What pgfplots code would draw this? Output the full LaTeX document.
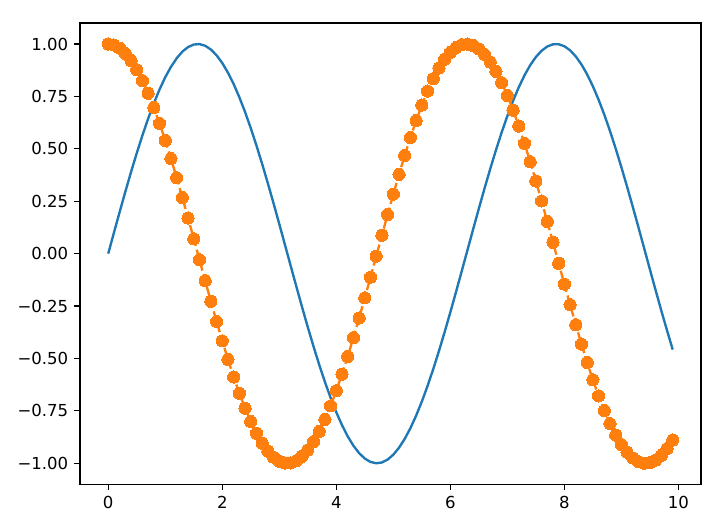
\documentclass[border=0pt]{standalone}
\usepackage{fontspec}
\setmainfont{DejaVu Sans}
\usepackage{pgfplots}
\pgfplotsset{compat=1.18}
\definecolor{mplblue}{HTML}{1F77B4}
\definecolor{mplorange}{HTML}{FF7F0E}

\begin{document}
\begin{tikzpicture}
\begin{axis}[
    scale only axis,
    width=447pt, height=332pt,
    xmin=-0.495, xmax=10.395,
    ymin=-1.1, ymax=1.1,
    axis line style={line width=0.9pt},
    tick style={line width=0.9pt, black},
    tick align=outside,
    major tick length=4pt,
    xtick={0,2,4,6,8,10},
    ytick={-1,-0.75,-0.5,-0.25,0,0.25,0.5,0.75,1},
    yticklabels={−1.00,−0.75,−0.50,−0.25,0.00,0.25,0.50,0.75,1.00},
    xtick pos=bottom, ytick pos=left,
    ticklabel style={font=\fontsize{11.9}{14}\selectfont},
    xticklabel style={yshift=-1pt},
    yticklabel style={xshift=-1pt},
    /pgf/number format/assume math mode=true,
]
% sin(x)
\addplot[mplblue, line width=1.7pt, mark=none] coordinates {
(0.0,0) (0.1,0.0998) (0.2,0.1987) (0.3,0.2955) (0.4,0.3894) (0.5,0.4794) (0.6,0.5646) (0.7,0.6442) (0.8,0.7174) (0.9,0.7833)
(1.0,0.8415) (1.1,0.8912) (1.2,0.9320) (1.3,0.9636) (1.4,0.9854) (1.5,0.9975) (1.6,0.9996) (1.7,0.9917) (1.8,0.9738) (1.9,0.9463)
(2.0,0.9093) (2.1,0.8632) (2.2,0.8085) (2.3,0.7457) (2.4,0.6755) (2.5,0.5985) (2.6,0.5155) (2.7,0.4274) (2.8,0.3350) (2.9,0.2392)
(3.0,0.1411) (3.1,0.0416) (3.2,-0.0584) (3.3,-0.1577) (3.4,-0.2555) (3.5,-0.3508) (3.6,-0.4425) (3.7,-0.5298) (3.8,-0.6119) (3.9,-0.6878)
(4.0,-0.7568) (4.1,-0.8183) (4.2,-0.8716) (4.3,-0.9162) (4.4,-0.9516) (4.5,-0.9775) (4.6,-0.9937) (4.7,-0.9999) (4.8,-0.9962) (4.9,-0.9825)
(5.0,-0.9589) (5.1,-0.9258) (5.2,-0.8835) (5.3,-0.8323) (5.4,-0.7728) (5.5,-0.7055) (5.6,-0.6313) (5.7,-0.5507) (5.8,-0.4646) (5.9,-0.3739)
(6.0,-0.2794) (6.1,-0.1822) (6.2,-0.0831) (6.3,0.0168) (6.4,0.1165) (6.5,0.2151) (6.6,0.3115) (6.7,0.4048) (6.8,0.4941) (6.9,0.5784)
(7.0,0.6570) (7.1,0.7290) (7.2,0.7937) (7.3,0.8504) (7.4,0.8987) (7.5,0.9380) (7.6,0.9679) (7.7,0.9882) (7.8,0.9985) (7.9,0.9989)
(8.0,0.9894) (8.1,0.9699) (8.2,0.9407) (8.3,0.9022) (8.4,0.8546) (8.5,0.7985) (8.6,0.7344) (8.7,0.6630) (8.8,0.5849) (8.9,0.5010)
(9.0,0.4121) (9.1,0.3191) (9.2,0.2229) (9.3,0.1245) (9.4,0.0248) (9.5,-0.0752) (9.6,-0.1743) (9.7,-0.2718) (9.8,-0.3665) (9.9,-0.4575)
};
% cos(x), dashed with circles
\addplot[mplorange, line width=1.7pt, dash pattern=on 6.4pt off 2.8pt,
    mark=*, mark size=4.4pt, mark options={solid, fill=mplorange, draw=mplorange, line width=0pt}] coordinates {
(0.0,1) (0.1,0.9950) (0.2,0.9801) (0.3,0.9553) (0.4,0.9211) (0.5,0.8776) (0.6,0.8253) (0.7,0.7648) (0.8,0.6967) (0.9,0.6216)
(1.0,0.5403) (1.1,0.4536) (1.2,0.3624) (1.3,0.2675) (1.4,0.1700) (1.5,0.0707) (1.6,-0.0292) (1.7,-0.1288) (1.8,-0.2272) (1.9,-0.3233)
(2.0,-0.4161) (2.1,-0.5048) (2.2,-0.5885) (2.3,-0.6663) (2.4,-0.7374) (2.5,-0.8011) (2.6,-0.8569) (2.7,-0.9041) (2.8,-0.9422) (2.9,-0.9710)
(3.0,-0.9900) (3.1,-0.9991) (3.2,-0.9983) (3.3,-0.9875) (3.4,-0.9668) (3.5,-0.9365) (3.6,-0.8968) (3.7,-0.8481) (3.8,-0.7910) (3.9,-0.7259)
(4.0,-0.6536) (4.1,-0.5748) (4.2,-0.4903) (4.3,-0.4008) (4.4,-0.3073) (4.5,-0.2108) (4.6,-0.1122) (4.7,-0.0124) (4.8,0.0875) (4.9,0.1865)
(5.0,0.2837) (5.1,0.3780) (5.2,0.4685) (5.3,0.5544) (5.4,0.6347) (5.5,0.7087) (5.6,0.7756) (5.7,0.8347) (5.8,0.8855) (5.9,0.9275)
(6.0,0.9602) (6.1,0.9833) (6.2,0.9965) (6.3,0.9999) (6.4,0.9932) (6.5,0.9766) (6.6,0.9502) (6.7,0.9143) (6.8,0.8694) (6.9,0.8157)
(7.0,0.7539) (7.1,0.6845) (7.2,0.6084) (7.3,0.5261) (7.4,0.4385) (7.5,0.3466) (7.6,0.2513) (7.7,0.1534) (7.8,0.0540) (7.9,-0.0460)
(8.0,-0.1455) (8.1,-0.2435) (8.2,-0.3392) (8.3,-0.4314) (8.4,-0.5193) (8.5,-0.6020) (8.6,-0.6787) (8.7,-0.7486) (8.8,-0.8111) (8.9,-0.8654)
(9.0,-0.9111) (9.1,-0.9477) (9.2,-0.9748) (9.3,-0.9922) (9.4,-0.9997) (9.5,-0.9972) (9.6,-0.9847) (9.7,-0.9624) (9.8,-0.9304) (9.9,-0.8892)
};
\end{axis}
\path (current axis.south west) ++(-57.6pt,-30.2pt) coordinate (bbA);
\path (current axis.north east) ++(13pt,16.6pt) coordinate (bbB);
\pgfresetboundingbox
\path[use as bounding box] (bbA) rectangle (bbB);
\end{tikzpicture}
\end{document}
